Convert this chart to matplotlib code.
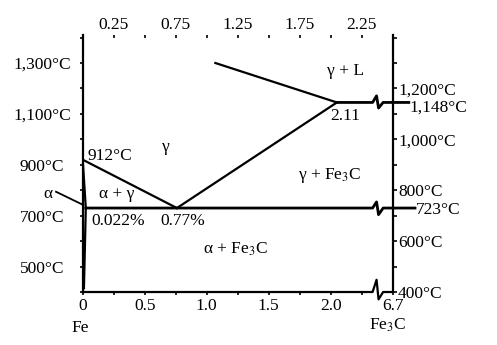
import matplotlib
matplotlib.use('Agg')
import matplotlib.pyplot as plt

plt.rcParams['font.family'] = 'Liberation Serif'
plt.rcParams['mathtext.fontset'] = 'stix'
plt.rcParams['font.size'] = 12.5

# Fe-C diagram, schematic (wt% C vs temperature in deg C)
# x axis is squashed at the right: 2.5 on the scale stands for 6.7 (Fe3C)
liquidus_x = [1.07, 2.05]
liquidus_y = [1300, 1145]
acm_x = [0.76, 2.05]
acm_y = [730, 1145]
a3_x = [0.0, 0.76]
a3_y = [920, 730]
alpha_x = [0.0, 0.025, 0.01]
alpha_y = [920, 730, 415]
eutectoid_x = [0.025, 2.68]
eutectoid_T = 730
eutectic_x = [2.05, 2.63]
eutectic_T = 1145
base_x = [0.0, 2.5]
base_T = 400
alpha_ptr_x = [-0.215, 0.005]
alpha_ptr_y = [794, 742]

bottom_ticks = [0, 0.25, 0.5, 0.75, 1.0, 1.25, 1.5, 1.75, 2.0, 2.25, 2.5]
bottom_labels = ['0', '', '0.5', '', '1.0', '', '1.5', '', '2.0', '', '6.7']
top_ticks = [0.25, 0.5, 0.75, 1.0, 1.25, 1.5, 1.75, 2.0, 2.25]
top_labels = ['0.25', '', '0.75', '', '1.25', '', '1.75', '', '2.25']
temp_ticks = [400, 500, 600, 700, 800, 900, 1000, 1100, 1200, 1300, 1400]
left_labels = ['', '500°C', '', '700°C', '', '900°C', '', '1,100°C', '', '1,300°C', '']
right_labels = ['400°C', '', '600°C', '', '800°C', '', '1,000°C', '', '1,200°C', '', '']


def broken(xs, T, up, down):
    # horizontal line with the little zigzag where the axis is cut
    bx = [xs[0], 2.338, 2.370, 2.386, 2.423, xs[1]]
    by = [T, T, T + up, T - down, T, T]
    return bx, by


fig = plt.figure(figsize=(4.97, 3.45), dpi=100)
ax = fig.add_axes([0.1664, 0.1536, 0.6237, 0.7449])
ax.set_xlim(0, 2.5)
ax.set_ylim(400, 1410)

lw = 1.6
ax.plot(liquidus_x, liquidus_y, color='black', lw=lw)
ax.plot(acm_x, acm_y, color='black', lw=lw)
ax.plot(a3_x, a3_y, color='black', lw=lw)
ax.plot(alpha_x, alpha_y, color='black', lw=lw)
ax.plot(alpha_ptr_x, alpha_ptr_y, color='black', lw=1.3, clip_on=False)

bx, by = broken(eutectoid_x, eutectoid_T, 24, 26)
ax.plot(bx, by, color='black', lw=2, clip_on=False)
bx, by = broken(eutectic_x, eutectic_T, 26, 22)
ax.plot(bx, by, color='black', lw=2, clip_on=False)
bx, by = broken(base_x, base_T, 48, 29)
ax.plot(bx, by, color='black', lw=lw, clip_on=False)

for s in ['top', 'bottom']:
    ax.spines[s].set_visible(False)
for s in ['left', 'right']:
    ax.spines[s].set_linewidth(lw)

ax.set_xticks(bottom_ticks, bottom_labels)
ax.tick_params(axis='x', direction='out', length=2.5, width=1.2, pad=1.5)
ax.set_yticks(temp_ticks, left_labels)
ax.tick_params(axis='y', direction='out', length=2.2, width=1.2, pad=27)
for t in ax.get_yticklabels():
    t.set_horizontalalignment('center')

top = ax.secondary_xaxis('top')
top.set_xticks(top_ticks, top_labels)
top.tick_params(direction='in', length=2.5, width=1.2, pad=1.5)
top.spines['top'].set_visible(False)

right = ax.secondary_yaxis('right')
right.set_yticks(temp_ticks, right_labels)
right.tick_params(direction='out', length=2.8, width=1.2, pad=1)
right.spines['right'].set_visible(False)

# region labels
ax.text(0.035, 919, '912°C', ha='left', va='baseline')
ax.text(0.671, 954, 'γ', ha='center', va='baseline')
ax.text(2.12, 1253, 'γ + L', ha='center', va='baseline')
ax.text(2.113, 1075, '2.11', ha='center', va='baseline')
ax.text(1.993, 845, 'γ + Fe$_3$C', ha='center', va='baseline')
ax.text(0.276, 768, 'α + γ', ha='center', va='baseline')
ax.text(-0.282, 770, 'α', ha='center', va='baseline', clip_on=False)
ax.text(0.284, 663, '0.022%', ha='center', va='baseline')
ax.text(0.808, 663, '0.77%', ha='center', va='baseline')
ax.text(1.231, 550, 'α + Fe$_3$C', ha='center', va='baseline')
ax.text(2.636, 1109, '1,148°C', ha='left', va='baseline', clip_on=False)
ax.text(2.69, 705, '723°C', ha='left', va='baseline', clip_on=False)
ax.text(-0.02, 244, 'Fe', ha='center', va='baseline', clip_on=False)
ax.text(2.459, 254, 'Fe$_3$C', ha='center', va='baseline', clip_on=False)

fig.savefig('out.png', dpi=100)
